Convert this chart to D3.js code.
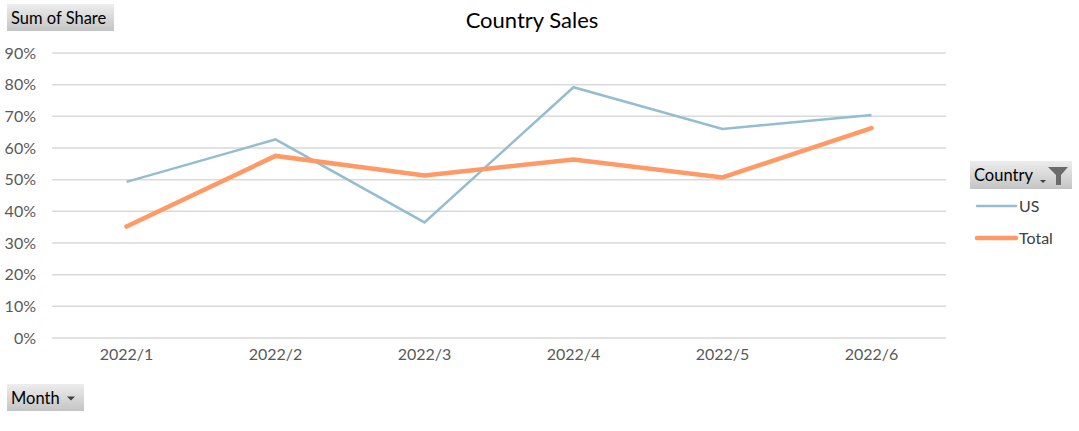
<!DOCTYPE html>
<html>
<head>
<meta charset="utf-8">
<script src="https://cdnjs.cloudflare.com/ajax/libs/d3/7.8.5/d3.min.js"></script>
<style>
  body { margin: 0; background: #fff; }
  svg text { font-family: Lato, "Open Sans", sans-serif; }
</style>
</head>
<body>
<div id="chart"></div>
<script>
// chart data
var months = ["2022/1", "2022/2", "2022/3", "2022/4", "2022/5", "2022/6"];
var usShare = [0.493, 0.627, 0.365, 0.792, 0.660, 0.704];
var totalShare = [0.352, 0.575, 0.513, 0.564, 0.507, 0.663];
var yTicks = [0, 0.1, 0.2, 0.3, 0.4, 0.5, 0.6, 0.7, 0.8, 0.9];
var seriesNames = ["US", "Total"];

var W = 1079, H = 431;
var plot = { left: 52, right: 946, top: 53, bottom: 338 };

var svg = d3.select("#chart").append("svg")
    .attr("width", W).attr("height", H);

var defs = svg.append("defs");
var grad = defs.append("linearGradient")
    .attr("id", "btn").attr("x1", 0).attr("y1", 0).attr("x2", 0).attr("y2", 1);
grad.append("stop").attr("offset", "0%").attr("stop-color", "#ededed");
grad.append("stop").attr("offset", "100%").attr("stop-color", "#c4c4c4");

var x = d3.scaleBand().domain(months).range([plot.left, plot.right]);
var y = d3.scaleLinear().domain([0, 0.9]).range([plot.bottom, plot.top]);

// gridlines
svg.append("g").selectAll("line")
    .data(yTicks)
    .enter().append("line")
    .attr("x1", plot.left).attr("x2", plot.right)
    .attr("y1", function(d) { return y(d); })
    .attr("y2", function(d) { return y(d); })
    .style("stroke", "#d9d9d9")
    .style("stroke-width", 1.5);

// y axis labels
var yAxis = d3.axisLeft(y).tickValues(yTicks).tickFormat(d3.format(".0%")).tickSize(0).tickPadding(0);
var gy = svg.append("g").attr("transform", "translate(36,0)").call(yAxis);
gy.select(".domain").remove();
gy.selectAll("text").style("font-size", "16px").style("fill", "#595959")
    .style("font-family", "Lato, sans-serif");

// x axis labels
var xAxis = d3.axisBottom(x).tickSize(0).tickPadding(0);
var gx = svg.append("g").attr("transform", "translate(0,349)").call(xAxis);
gx.select(".domain").remove();
gx.selectAll("text").style("font-size", "16px").style("fill", "#595959")
    .style("font-family", "Lato, sans-serif");

var line = d3.line()
    .x(function(d, i) { return x(months[i]) + x.bandwidth() / 2; })
    .y(function(d) { return y(d); });

svg.append("path").datum(usShare)
    .attr("d", line)
    .style("fill", "none")
    .style("stroke", "#94bdd0")
    .style("stroke-width", 2.5);

svg.append("path").datum(totalShare)
    .attr("d", line)
    .style("fill", "none")
    .style("stroke", "#ff9966")
    .style("stroke-width", 4.5)
    .style("stroke-linecap", "round");

// title
svg.append("text")
    .attr("x", 532).attr("y", 28)
    .attr("text-anchor", "middle")
    .style("font-size", "22px")
    .style("fill", "#000")
    .text("Country Sales");

// field buttons
function button(bx, by, bw, bh, label, arrow) {
    var g = svg.append("g");
    g.append("rect").attr("x", bx).attr("y", by).attr("width", bw).attr("height", bh)
        .style("fill", "url(#btn)");
    g.append("text").attr("x", bx + 4).attr("y", by + bh / 2 + 6)
        .style("font-size", "16.5px").style("fill", "#000").text(label);
    if (arrow) {
        var ax = bx + bw - 13, ay = by + bh / 2;
        g.append("path").attr("d", "M" + (ax - 4) + "," + (ay - 1) + "L" + (ax + 4) + "," + (ay - 1) + "L" + ax + "," + (ay + 3) + "Z")
            .style("fill", "#404040");
    }
    return g;
}
button(7, 4, 107, 27, "Sum of Share", false);
button(7, 384, 77, 27, "Month", true);

var cb = button(970, 161, 102, 28, "Country", false);
// small dropdown arrow + funnel
cb.append("path").attr("d", "M1040,180L1046,180L1043,183Z").style("fill", "#404040");
cb.append("path").attr("d", "M1048,167L1068,167L1061,175L1061,185L1056,185L1056,175Z").style("fill", "#6b6b6b");

// legend
var legend = svg.append("g");
var legColors = ["#94bdd0", "#ff9966"];
var legWidths = [2.5, 4.5];
seriesNames.forEach(function(name, i) {
    var ly = 206 + i * 32;
    legend.append("line").attr("x1", 977).attr("x2", 1016).attr("y1", ly).attr("y2", ly)
        .style("stroke", legColors[i]).style("stroke-width", legWidths[i])
        .style("stroke-linecap", "round");
    legend.append("text").attr("x", 1019).attr("y", ly + 6)
        .style("font-size", "16px").style("fill", "#404040").text(name);
});
</script>
</body>
</html>
